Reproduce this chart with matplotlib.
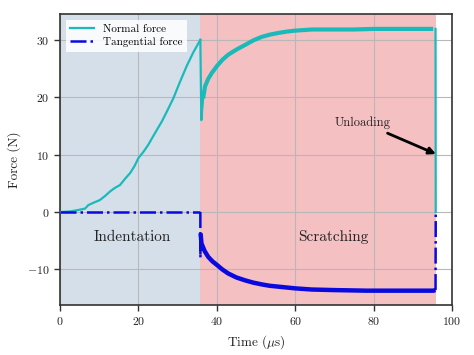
import matplotlib
matplotlib.use("Agg")
import matplotlib.pyplot as plt

plt.rcParams['font.family'] = ['cmr10', 'DejaVu Serif']
plt.rcParams['mathtext.fontset'] = 'cm'
plt.rcParams['axes.formatter.use_mathtext'] = True
plt.rcParams['axes.unicode_minus'] = True

# Normal force (indentation phase)
t_ind = [0, 2.6, 5, 6.4, 7.2, 8.5, 10.2, 11.5, 12.8, 14, 15.3, 16.6, 17.9, 19, 20, 21.3, 22.5, 23.6, 24.7,
         26, 27.4, 28.9, 30.5, 32.3, 34, 35.8]
fn_ind = [0, 0.1, 0.4, 0.6, 1.2, 1.6, 2.1, 2.8, 3.6, 4.2, 4.7, 5.8, 6.8, 8.0, 9.4, 10.5, 11.7, 13.0, 14.3,
          15.8, 17.7, 19.8, 22.5, 25.4, 27.8, 30]
# Normal force (scratching phase)
t_scr = [35.8, 36.05, 36.5, 37, 37.8, 38.7, 40, 41.4, 42.9, 45, 47.2, 49.3, 51.4, 53.5, 55.7, 58, 60, 64.2,
         70, 75, 80, 85, 90, 95.2, 95.8, 95.85]
fn_scr = [30, 16, 19.8, 21.9, 23.2, 24.2, 25.4, 26.5, 27.4, 28.3, 29.1, 29.9, 30.5, 30.9, 31.2, 31.45, 31.6,
          31.8, 31.8, 31.8, 31.9, 31.9, 31.9, 31.9, 31.9, 0]

# Tangential force
tt_ind = [0, 10, 20, 30, 35.8]
ft_ind = [0, 0, 0, 0, 0]
tt_scr = [35.8, 35.82, 35.85, 36.1, 36.9, 37.8, 38.9, 40, 41.4, 42.9, 45, 47.2, 49.3, 51.4, 53.5, 55.7, 60,
          64.2, 70, 78.2, 85, 90, 95.2, 95.8, 95.85]
ft_scr = [0, -8.0, -3.7, -5.5, -6.8, -7.8, -8.6, -9.2, -10.0, -10.7, -11.4, -11.9, -12.3, -12.6, -12.85, -13.0,
          -13.3, -13.5, -13.6, -13.7, -13.7, -13.7, -13.7, -13.6, 0]

phase_edges = [0, 35.8, 95.9]
phase_labels = ['Indentation', 'Scratching']

fig = plt.figure(figsize=(4.74, 3.55), dpi=100)
ax = fig.add_axes([0.1266, 0.1408, 0.827, 0.8198])

ax.axvspan(phase_edges[0], phase_edges[1], color='#d5dfea', zorder=0.2, lw=0)
ax.axvspan(phase_edges[1], phase_edges[2], color='#f5c0c2', zorder=0.2, lw=0)
ax.set_axisbelow(True)
ax.grid(True, color='#b8b8b8', lw=0.8, zorder=0.5)

cn = '#1bbaba'
cb = '#0a0ae0'
ax.plot(t_ind, fn_ind, color=cn, lw=1.6, label='Normal force', zorder=3)
ax.plot(t_scr[:3], fn_scr[:3], color=cn, lw=1.6, zorder=3)
ax.plot(t_scr[2:-2], fn_scr[2:-2], color=cn, lw=3.0, zorder=3, solid_capstyle='butt')
ax.plot(t_scr[-2:], fn_scr[-2:], color=cn, lw=1.6, zorder=3)
ax.plot(tt_ind, ft_ind, color=cb, lw=1.8, ls='-.', label='Tangential force', zorder=3)
ax.plot(tt_scr[:3], ft_scr[:3], color=cb, lw=1.8, ls='-.', zorder=3)
ax.plot(tt_scr[2:-1], ft_scr[2:-1], color=cb, lw=3.2, zorder=3, solid_capstyle='butt')
ax.plot(tt_scr[-2:], ft_scr[-2:], color=cb, lw=1.8, ls='-.', zorder=3)

ax.text(18.4, -4.3, phase_labels[0], ha='center', va='center', fontsize=11, color='#222222')
ax.text(69.7, -4.3, phase_labels[1], ha='center', va='center', fontsize=11, color='#222222')

ax.annotate('Unloading', xy=(95.9, 10.1), xytext=(77.2, 15.6), ha='center', va='center',
            fontsize=9, color='#222222',
            arrowprops=dict(arrowstyle='-|>', color='black', lw=2.0, mutation_scale=10,
                            shrinkA=3, shrinkB=0))

ax.set_xlim(0, 100)
ax.set_ylim(-16.2, 34.5)
ax.set_xticks([0, 20, 40, 60, 80, 100])
ax.set_yticks([-10, 0, 10, 20, 30])
ax.tick_params(labelsize=8.5, direction='out', length=4, width=1.0, colors='#333333', labelcolor='#222222')
for s in ax.spines.values():
    s.set_color('#333333')
    s.set_linewidth(1.2)
ax.set_xlabel(r'Time ($\mu$s)', fontsize=9.5, color='#222222')
ax.set_ylabel('Force (N)', fontsize=9.5, color='#222222')

leg = ax.legend(loc='upper left', fontsize=8, frameon=True, fancybox=False, framealpha=0.85,
                edgecolor='none', borderpad=0.4, handlelength=2.2, labelspacing=0.3)

fig.savefig('out.png', dpi=100)
